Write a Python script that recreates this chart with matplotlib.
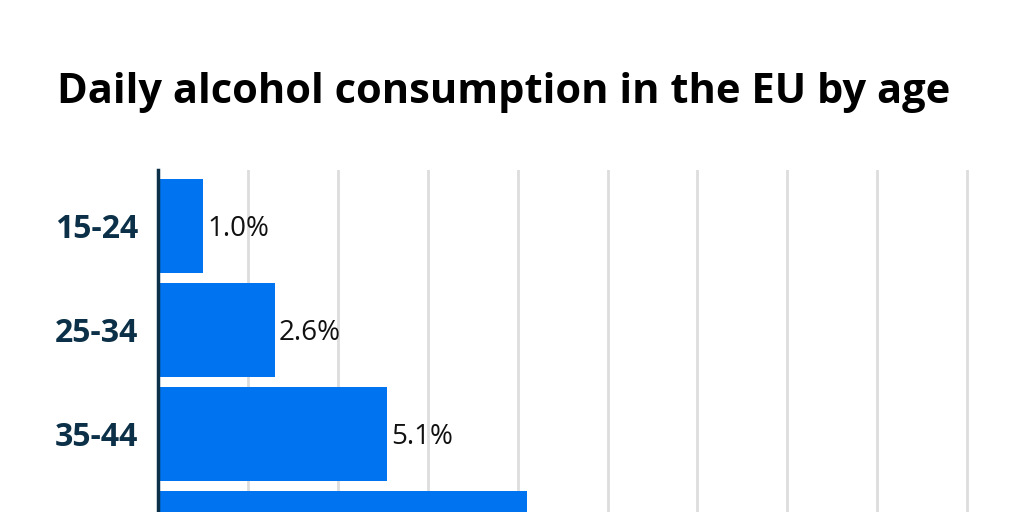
import matplotlib
matplotlib.use("Agg")
import matplotlib.pyplot as plt

categories = ["15-24", "25-34", "35-44", "45-54"]
values = [1.0, 2.6, 5.1, 8.2]
value_labels = ["1.0%", "2.6%", "5.1%", "8.2%"]
grid_ticks = [2, 4, 6, 8, 10, 12, 14, 16, 18]

W, H = 1024, 512
fig = plt.figure(figsize=(W / 100, H / 100), dpi=100)
ax = fig.add_axes([158 / W, 0, (1000 - 158) / W, (512 - 170) / H])

bar_color = "#0073F0"
navy = "#0B3048"

y = list(range(len(categories)))
ax.barh(y, values, height=0.9, color=bar_color, zorder=3)

ax.set_xticks(grid_ticks)
ax.xaxis.grid(True, color="#DDDDDD", linewidth=2, zorder=0)
ax.tick_params(axis="x", length=0, labelbottom=False)

ax.set_yticks(y)
ax.set_yticklabels(categories, fontfamily="Open Sans", fontweight="bold",
                   fontsize=23, color=navy)
ax.tick_params(axis="y", length=0, pad=14)

ax.set_xlim(0, (1000 - 158) / 44.95)
ax.set_ylim(2.75, -0.538)

for s in ["top", "right", "bottom"]:
    ax.spines[s].set_visible(False)
ax.spines["left"].set_color(navy)
ax.spines["left"].set_linewidth(2.5)
ax.spines["left"].set_zorder(4)

for yi, v, lab in zip(y, values, value_labels):
    ax.annotate(lab, (v, yi), xytext=(3, -2), textcoords="offset points",
                va="center", ha="left", fontsize=20, fontfamily="Open Sans",
                color="#111111", annotation_clip=True, zorder=5)

fig.text(57 / W, 1 - 103 / H, "Daily alcohol consumption in the EU by age",
         fontfamily="Open Sans", fontweight="bold", fontsize=30,
         color="#000000", va="baseline", ha="left")

fig.savefig("out.png", dpi=100, facecolor="white")
